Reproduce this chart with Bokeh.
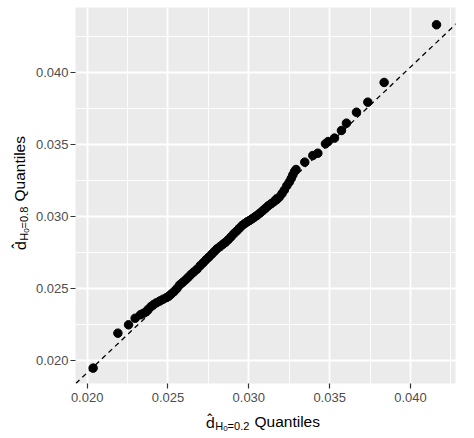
from bokeh.plotting import figure
from bokeh.models import FixedTicker, NumeralTickFormatter, Slope, Range1d, Div
from bokeh.layouts import row, column
from bokeh.embed import file_html
from bokeh.resources import INLINE

# Sample quantiles
x_quant = [0.02037, 0.02190, 0.02256, 0.02297, 0.02330, 0.02345,
           0.02360, 0.02378, 0.02395, 0.02412, 0.02430, 0.02450, 0.02470, 0.02490,
           0.02505, 0.02520, 0.02538, 0.02555, 0.02572, 0.02590, 0.02608, 0.02625,
           0.02642, 0.02660, 0.02680, 0.02700, 0.02718, 0.02735, 0.02752, 0.02770,
           0.02787, 0.02804, 0.02822, 0.02840, 0.02856, 0.02873, 0.02890, 0.02907,
           0.02925, 0.02942, 0.02959, 0.02975, 0.02990, 0.03004, 0.03020, 0.03036,
           0.03052, 0.03070, 0.03087, 0.03103, 0.03120, 0.03138, 0.03155, 0.03172,
           0.03188, 0.03205, 0.03220, 0.03235, 0.03250, 0.03262, 0.03272, 0.03282,
           0.03292, 0.03346, 0.03396, 0.03427, 0.03474, 0.03491, 0.03530, 0.03573,
           0.03604, 0.03666, 0.03736, 0.03837, 0.04161]
y_quant = [0.01947, 0.02190, 0.02248, 0.02294, 0.02318, 0.02326,
           0.02336, 0.02356, 0.02375, 0.02390, 0.02402, 0.02414, 0.02426, 0.02437,
           0.02447, 0.02462, 0.02480, 0.02500, 0.02525, 0.02542, 0.02560, 0.02578,
           0.02598, 0.02616, 0.02635, 0.02660, 0.02680, 0.02700, 0.02718, 0.02738,
           0.02758, 0.02777, 0.02792, 0.02808, 0.02822, 0.02840, 0.02860, 0.02881,
           0.02900, 0.02920, 0.02939, 0.02952, 0.02964, 0.02973, 0.02985, 0.02997,
           0.03010, 0.03026, 0.03042, 0.03058, 0.03075, 0.03090, 0.03104, 0.03118,
           0.03135, 0.03160, 0.03185, 0.03215, 0.03240, 0.03265, 0.03290, 0.03312,
           0.03328, 0.03379, 0.03425, 0.03441, 0.03506, 0.03522, 0.03546, 0.03599,
           0.03650, 0.03726, 0.03796, 0.03933, 0.04334]

# Reference (qq) line
qq_slope = 1.0627
qq_intercept = -0.002107

x_ticks = [0.020, 0.025, 0.030, 0.035, 0.040]
y_ticks = [0.020, 0.025, 0.030, 0.035, 0.040]
x_minor = [0.0225, 0.0275, 0.0325, 0.0375, 0.0425]
y_minor = [0.0225, 0.0275, 0.0325, 0.0375, 0.0425]
x_range = (0.019278, 0.042785)
y_range = (0.018401, 0.04454)

x_title_sub = "=0.2"
y_title_sub = "=0.8"
title_word = "Quantiles"

FONT = "Liberation Sans"
YDIV_W = 32
FIG_H = 7 + 376 + 26

p = figure(output_backend="svg", toolbar_location=None,
           frame_width=380, frame_height=376,
           x_range=Range1d(*x_range), y_range=Range1d(*y_range))
p.min_border_left = 75 - YDIV_W
p.min_border_right = 19
p.min_border_top = 7
p.min_border_bottom = 26
p.background_fill_color = "#EBEBEB"
p.border_fill_color = "white"
p.outline_line_color = None

for ax, ticks, minor in ((p.xaxis[0], x_ticks, x_minor), (p.yaxis[0], y_ticks, y_minor)):
    ax.ticker = FixedTicker(ticks=ticks, minor_ticks=minor)
    ax.formatter = NumeralTickFormatter(format="0.000")
    ax.axis_line_color = None
    ax.major_tick_line_color = "#333333"
    ax.major_tick_line_width = 1.2
    ax.major_tick_in = 0
    ax.major_tick_out = 5
    ax.minor_tick_line_color = None
    ax.major_label_text_font = FONT
    ax.major_label_text_font_size = "13px"
    ax.major_label_text_color = "#4D4D4D"
p.xaxis[0].major_label_standoff = 4
p.yaxis[0].major_label_standoff = 2

for g in (p.xgrid[0], p.ygrid[0]):
    g.grid_line_color = "white"
    g.grid_line_width = 1.8
    g.minor_grid_line_color = "white"
    g.minor_grid_line_width = 0.9

p.add_layout(Slope(gradient=qq_slope, y_intercept=qq_intercept,
                   line_color="black", line_width=1.3, line_dash="5 4"))
p.scatter(x_quant, y_quant, size=8.5, color="black")


def span(text, left, baseline, size, font=None):
    top = baseline - 0.8465 * size
    ff = ("font-family:'%s';" % font) if font else ""
    return ('<span style="position:absolute;left:%.1fpx;top:%.1fpx;font-size:%spx;'
            'line-height:%spx;white-space:nowrap;%s">%s</span>' % (left, top, size, size, ff, text))


def title_html(sub, u0, b0):
    # d-hat (d with combining circumflex), subscript H_0 and the word "Quantiles"
    return "".join([
        span("d\u0302", u0 - 0.3, b0 + 0.5, 15, "Noto Sans"),
        span("H", u0 + 9.3, b0 + 3, 11),
        span("0", u0 + 17.2, b0 + 5, 8),
        span(sub, u0 + 21.6, b0 + 3, 11),
        span(title_word, u0 + 48.5, b0, 15.5),
    ])


base_style = "font-family:'Liberation Sans';color:black;overflow:visible;"

x_html = ('<div style="position:relative;width:474px;height:29px;%s">%s</div>'
          % (base_style, title_html(x_title_sub, 206, 18)))
y_inner = ('<div style="position:absolute;left:4.5px;top:250px;width:130px;height:30px;'
           'transform:rotate(-90deg);transform-origin:0 0;">%s</div>'
           % title_html(y_title_sub, 0, 20))
y_html = ('<div style="position:relative;width:%dpx;height:%dpx;%s">%s</div>'
          % (YDIV_W, FIG_H, base_style, y_inner))

ydiv = Div(text=y_html, width=YDIV_W, height=FIG_H, margin=0, styles={"overflow": "visible"})
xdiv = Div(text=x_html, width=474, height=438 - FIG_H, margin=0, styles={"overflow": "visible"})

layout = column(row(ydiv, p, spacing=0), xdiv, spacing=0)

open("out.html", "w").write(file_html(layout, INLINE))
